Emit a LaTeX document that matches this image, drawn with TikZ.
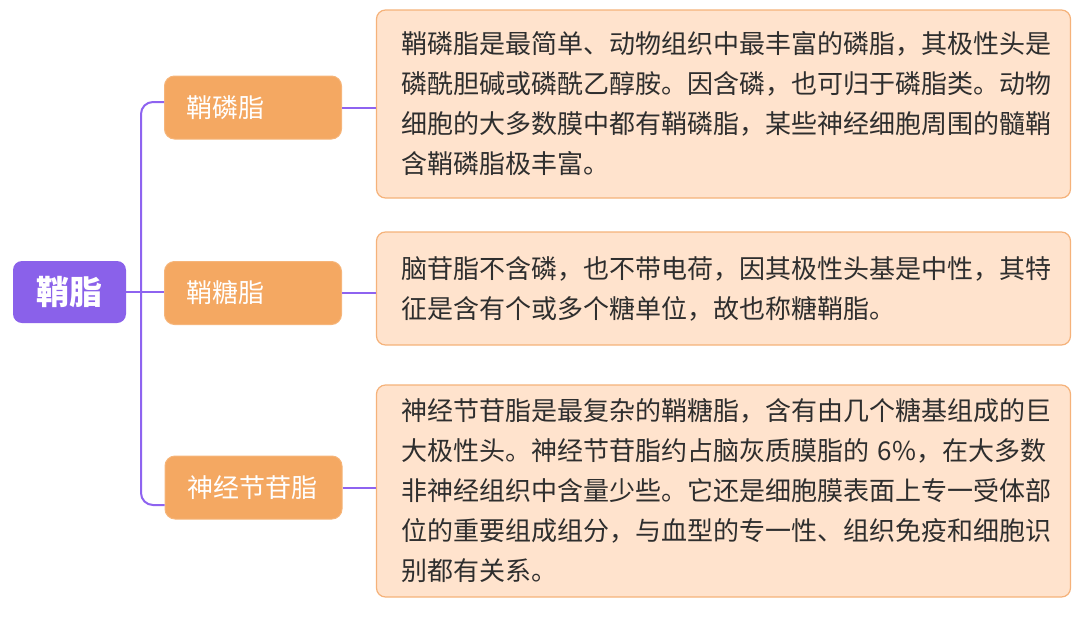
\documentclass[tikz,border=0pt]{standalone}
\usepackage{fontspec}
\setmainfont{Noto Sans CJK SC}
\usetikzlibrary{positioning}

\definecolor{rootpurple}{HTML}{8A61EA}
\definecolor{linkpurple}{HTML}{8E63F0}
\definecolor{subfill}{HTML}{F4A862}
\definecolor{descfill}{HTML}{FFE3CD}
\definecolor{descline}{HTML}{F5B27A}
\definecolor{desctext}{HTML}{2E2E2E}

\begin{document}
\begin{tikzpicture}[x=1pt, y=-1pt,
    rootbox/.style={fill=rootpurple, rounded corners=9pt, minimum width=113pt, minimum height=62pt,
        text=white, font=\fontsize{33}{40}\selectfont\bfseries},
    subbox/.style={fill=subfill, draw=subfill!85!white, line width=1pt, rounded corners=10pt,
        text width=133pt, inner xsep=22pt, minimum height=63pt, align=left,
        text=white, font=\fontsize{26}{32}\selectfont},
    descbox/.style={fill=descfill, draw=descline, line width=1.2pt, rounded corners=9pt,
        text width=645pt, inner xsep=24.5pt, align=left,
        text=desctext, font=\fontsize{26}{40}\selectfont},
    link/.style={draw=linkpurple, line width=2pt}]
    \useasboundingbox (0,0) rectangle (1080,619);

    % root and its three kinds
    \node (root) [rootbox] at (69.5,292) {鞘脂};
    \node (c1) [subbox] at (253,107.5) {鞘磷脂};
    \node (c2) [subbox] at (253,293) {鞘糖脂};
    \node (c3) [subbox] at (253.5,487.5) {神经节苷脂};

    % descriptions
    \node (d1) [descbox, minimum height=188pt] at (723.5,104) {鞘磷脂是最简单、动物组织中最丰富的磷脂，其极性头是\\
        磷酰胆碱或磷酰乙醇胺。因含磷，也可归于磷脂类。动物\\
        细胞的大多数膜中都有鞘磷脂，某些神经细胞周围的髓鞘\\
        含鞘磷脂极丰富。};
    \node (d2) [descbox, minimum height=113pt] at (723.5,288.5) {脑苷脂不含磷，也不带电荷，因其极性头基是中性，其特\\
        征是含有个或多个糖单位，故也称糖鞘脂。};
    \node (d3) [descbox, minimum height=212pt] at (723.5,491) {神经节苷脂是最复杂的鞘糖脂，含有由几个糖基组成的巨\\
        大极性头。神经节苷脂约占脑灰质膜脂的~6\%，在大多数\\
        非神经组织中含量少些。它还是细胞膜表面上专一受体部\\
        位的重要组成组分，与血型的专一性、组织免疫和细胞识\\
        别都有关系。};

    % connectors
    \coordinate (trunk) at (141,292);
    \draw[link] (root.east) -- (c2.west |- root.east);
    \draw[link, rounded corners=12pt] ([yshift=5.5pt]c1.west) -| (trunk) |- ([yshift=-17.5pt]c3.west);
    \draw[link] (c1.east) -- (c1.east -| d1.west);
    \draw[link] (c2.east) -- (c2.east -| d2.west);
    \draw[link] (c3.east) -- (c3.east -| d3.west);
\end{tikzpicture}
\end{document}
